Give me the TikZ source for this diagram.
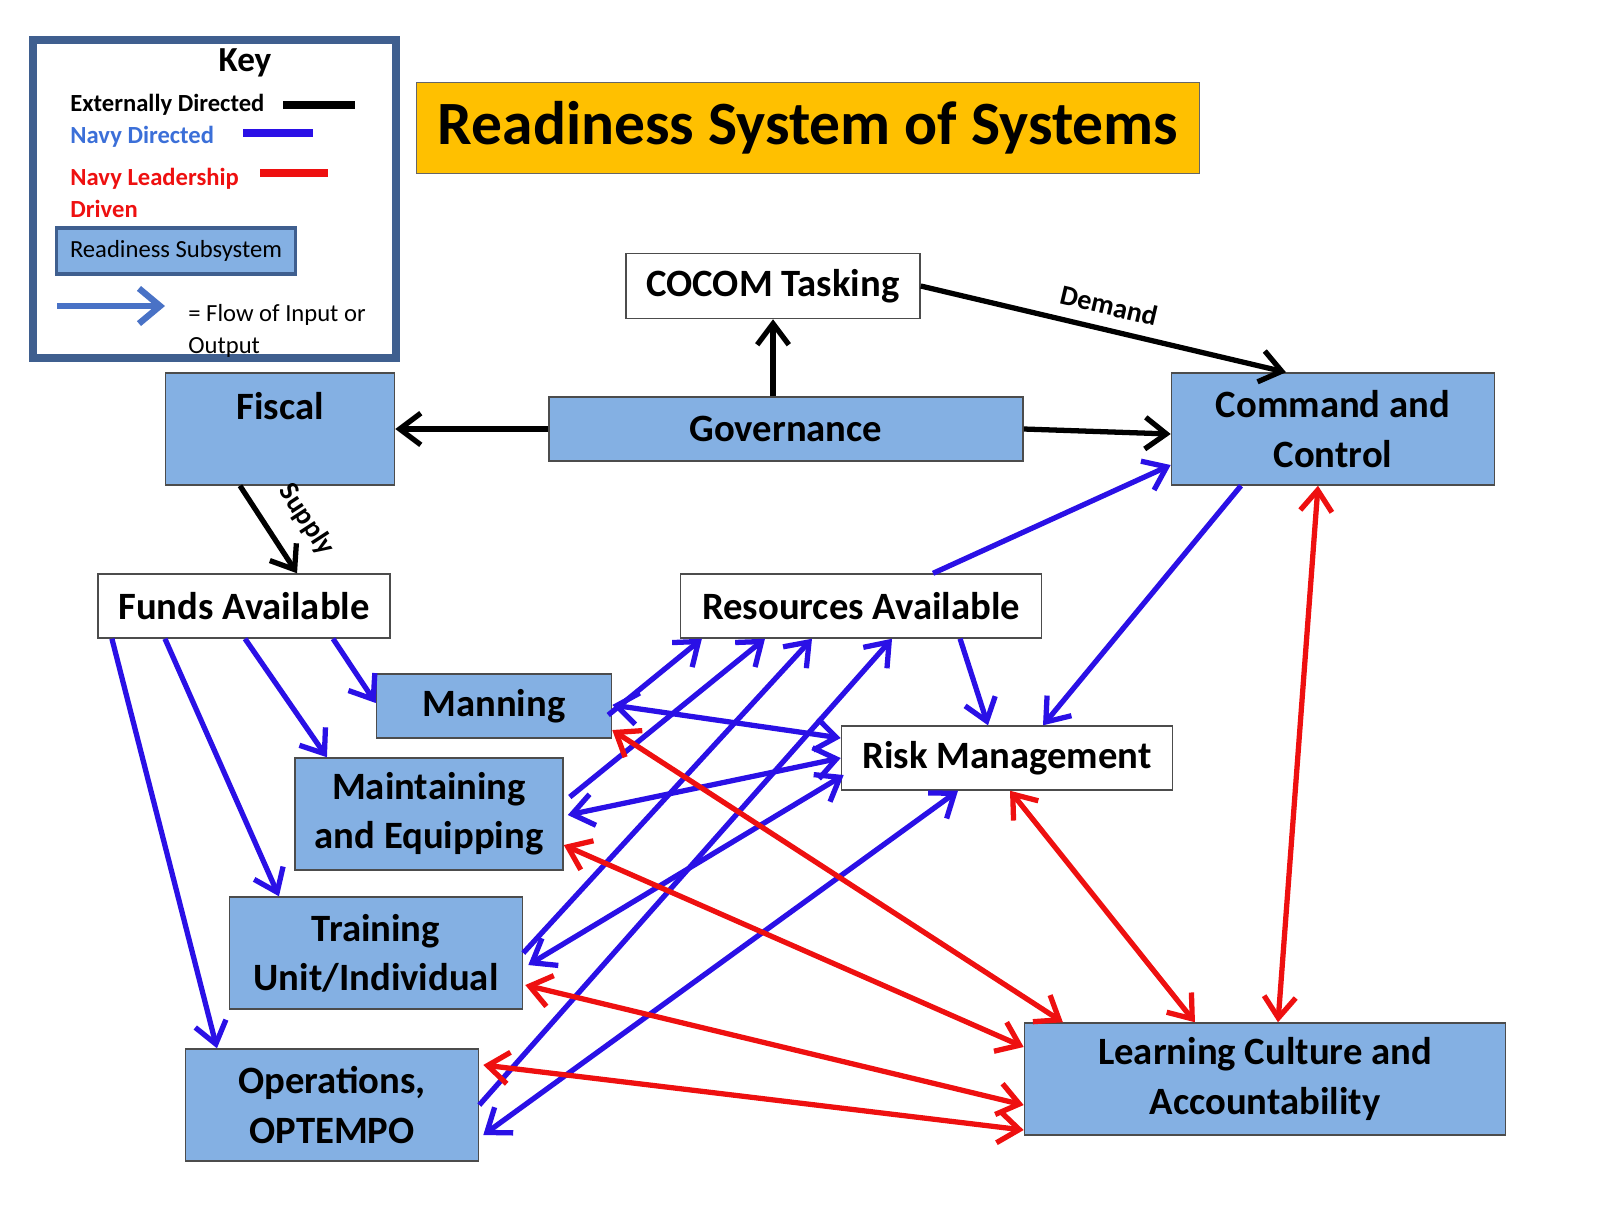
\documentclass[tikz,border=0pt]{standalone}
\usepackage{fontspec}
\setmainfont{Carlito}
\usetikzlibrary{arrows.meta}
\definecolor{boxblue}{HTML}{84B0E3}
\definecolor{navyb}{HTML}{2A10E6}
\definecolor{keyblue}{HTML}{3B6FD8}
\definecolor{ored}{HTML}{EE1010}
\definecolor{gold}{HTML}{FFC000}
\definecolor{keyframe}{HTML}{3F5F8F}
\begin{document}
\begin{tikzpicture}[x=0.01cm,y=-0.01cm,
 sub/.style={draw=black!70,fill=boxblue,inner sep=0pt,align=center,font=\fontsize{11}{14}\selectfont\bfseries},
 wbox/.style={draw=black!70,fill=white,inner sep=0pt,align=center,font=\fontsize{11}{14}\selectfont\bfseries},
 ext/.style={black,line width=1.5pt,-{Straight Barb[length=6pt,width=9pt]}},
 nav/.style={navyb,line width=1.5pt,-{Straight Barb[length=6pt,width=9pt]}},
 navd/.style={navyb,line width=1.5pt,{Straight Barb[length=6pt,width=9pt]}-{Straight Barb[length=6pt,width=9pt]}},
 led/.style={ored,line width=1.5pt,{Straight Barb[length=6pt,width=9pt]}-{Straight Barb[length=6pt,width=9pt]}}]
\useasboundingbox (0,0) rectangle (1600,1214);
% key
\draw[keyframe,line width=2pt] (33,40) rectangle (396,358);
\node[font=\fontsize{10}{12}\selectfont\bfseries] (keyt) at (245,63) {Key};
\node[anchor=west,font=\fontsize{7}{9}\selectfont\bfseries] (k1) at (58,105) {Externally Directed};
\draw[black,line width=2pt] (283,105) -- (355,105);
\node[anchor=west,font=\fontsize{7}{9}\selectfont\bfseries,text=keyblue] (k2) at (58,137) {Navy Directed};
\draw[navyb,line width=2pt] (243,133) -- (313,133);
\node[anchor=north west,align=left,font=\fontsize{7}{9}\selectfont\bfseries,text=ored] (k3) at (58,156) {Navy Leadership\\Driven};
\draw[ored,line width=2pt] (260,173) -- (328,173);
\node[draw=keyframe,line width=1pt,fill=boxblue,font=\fontsize{7}{9}\selectfont,inner sep=0pt,minimum height=0.46cm,minimum width=2.39cm] (k4) at (176,251) {Readiness Subsystem};
\coordinate (ka) at (57,306); \coordinate (kb) at (165,306);
\draw[keyblue!80!gray,line width=1.8pt,-{Straight Barb[length=6pt,width=10pt]}] (ka) -- (kb);
\node[anchor=north west,align=left,font=\fontsize{7}{9}\selectfont] (k5) at (176,292) {= Flow of Input or\\Output};
% title
\node[draw=black!60,fill=gold,minimum width=7.82cm,minimum height=0.91cm,font=\fontsize{17.5}{20}\selectfont\bfseries] (title) at (808,128) {Readiness System of Systems};
% boxes
\node[wbox,minimum width=2.94cm,minimum height=0.65cm] (cocom) at (773,286) {COCOM Tasking};
\node[sub,minimum width=2.29cm,minimum height=1.12cm] (fiscal) at (280,429) {};
\node[font=\fontsize{11}{14}\selectfont\bfseries] (fiscalt) at (280,406) {Fiscal};
\node[sub,minimum width=4.74cm,minimum height=0.64cm] (gov) at (786,429) {Governance};
\node[sub,minimum width=3.23cm,minimum height=1.12cm] (cc) at (1333,429) {Command and\\Control};
\node[wbox,minimum width=2.92cm,minimum height=0.64cm] (funds) at (244,606) {Funds Available};
\node[wbox,minimum width=3.61cm,minimum height=0.64cm] (res) at (861,606) {Resources Available};
\node[sub,minimum width=2.35cm,minimum height=0.64cm] (man) at (494,706) {Manning};
\node[wbox,minimum width=3.31cm,minimum height=0.64cm] (risk) at (1007,758) {Risk Management};
\node[sub,minimum width=2.68cm,minimum height=1.12cm] (maint) at (429,814) {Maintaining\\and Equipping};
\node[sub,minimum width=2.93cm,minimum height=1.12cm] (train) at (376,953) {Training\\Unit/Individual};
\node[sub,minimum width=2.93cm,minimum height=1.12cm] (ops) at (332,1105) {Operations,\\OPTEMPO};
\node[sub,minimum width=4.81cm,minimum height=1.12cm] (learn) at (1265,1079) {Learning Culture and\\Accountability};
% black
\draw[ext] (gov.north -| cocom.south) -- (cocom.south);
\draw[ext] (gov.west) -- (fiscal.east);
\draw[ext] (gov.east) -- ([yshift=-0.05cm]cc.west);
\draw[ext] (cocom.east) -- node[sloped,above,font=\fontsize{8}{10}\selectfont\bfseries,pos=0.5] {Demand} ([xshift=-0.47cm]cc.north);
\draw[ext] ([xshift=-0.4cm]fiscal.south) -- node[sloped,above=3pt,font=\fontsize{8}{10}\selectfont\bfseries,pos=0.62] {Supply} ([xshift=0.53cm]funds.north);
% blue
\draw[nav] ([xshift=-1.32cm]funds.south) -- ([xshift=-1.15cm]ops.north);
\draw[nav] ([xshift=-0.79cm]funds.south) -- ([xshift=-0.97cm]train.north);
\draw[nav] ([xshift=0.01cm]funds.south) -- ([xshift=-1.02cm]maint.north);
\draw[nav] ([xshift=0.89cm]funds.south) -- ([yshift=0.03cm]man.west);
\draw[nav] ([xshift=-0.04cm,yshift=-0.09cm]man.east) -- ([xshift=-1.59cm]res.south);
\draw[navd] ([yshift=0.01cm]man.east) -- ([yshift=0.2cm]risk.west);
\draw[nav] ([xshift=0.06cm,yshift=0.17cm]maint.east) -- ([xshift=-0.96cm]res.south);
\draw[navd] ([xshift=0.04cm,yshift=-0.01cm]maint.east) -- (risk.west);
\draw[nav] ([yshift=0cm]train.east) -- ([xshift=-0.49cm]res.south);
\draw[navd] ([xshift=0.05cm,yshift=-0.12cm]train.east) -- ([xshift=0.03cm,yshift=-0.17cm]risk.west);
\draw[nav] ([yshift=0cm]ops.east) -- ([xshift=0.31cm]res.south);
\draw[navd] ([xshift=0.04cm,yshift=-0.3cm]ops.east) -- ([xshift=-0.49cm]risk.south);
\draw[nav] ([xshift=0.99cm]res.south) -- ([xshift=-0.19cm]risk.north);
\draw[nav] ([xshift=-0.92cm]cc.south) -- ([xshift=0.36cm]risk.north);
\draw[nav] ([xshift=0.72cm]res.north) -- ([yshift=-0.36cm]cc.west);
% red
\draw[led] ([yshift=-0.24cm]man.east) -- ([xshift=-2.02cm]learn.north);
\draw[led] ([yshift=-0.31cm]maint.east) -- ([yshift=0.32cm]learn.west);
\draw[led] ([xshift=0.02cm,yshift=-0.32cm]train.east) -- ([yshift=-0.26cm]learn.west);
\draw[led] ([xshift=0.04cm,yshift=0.4cm]ops.east) -- ([yshift=-0.51cm]learn.west);
\draw[led] ([xshift=0.03cm]risk.south) -- ([xshift=-0.7cm]learn.north);
\draw[led] ([xshift=-0.15cm]cc.south) -- ([xshift=0.13cm]learn.north);
\end{tikzpicture}
\end{document}
